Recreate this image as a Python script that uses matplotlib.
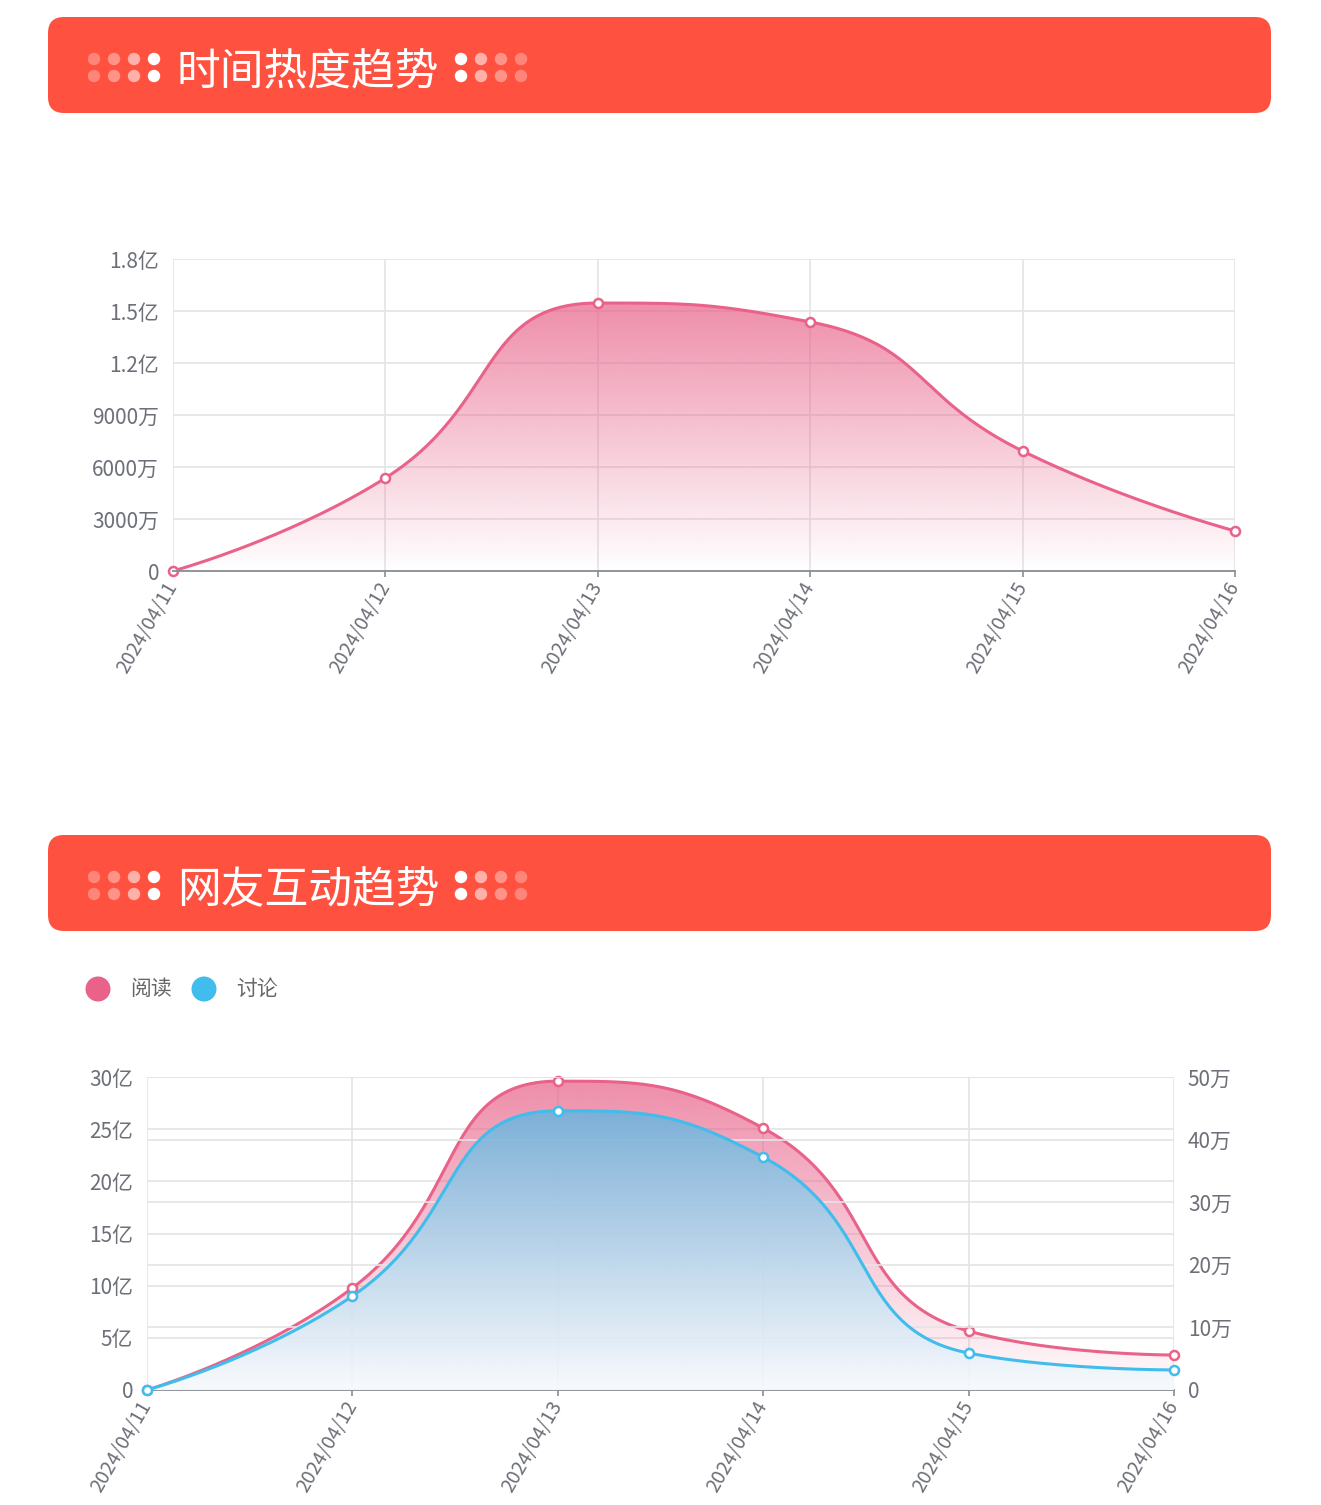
import numpy as np
import matplotlib
matplotlib.use('Agg')
import matplotlib.pyplot as plt
from matplotlib.patches import FancyBboxPatch, Circle, Polygon

plt.rcParams['font.family'] = ['Noto Sans CJK SC', 'DejaVu Sans']

# ---------------- data ----------------
dates = ['2024/04/11', '2024/04/12', '2024/04/13', '2024/04/14', '2024/04/15', '2024/04/16']
heat = [0, 5365, 15460, 14370, 6920, 2310]          # 万
heat_ticks = [0, 3000, 6000, 9000, 12000, 15000, 18000]
heat_tick_labels = ['0', '3000万', '6000万', '9000万', '1.2亿', '1.5亿', '1.8亿']

read = [0, 9.78, 29.6, 25.1, 5.65, 3.35]            # 亿
discuss = [0, 15.0, 44.6, 37.2, 5.9, 3.2]           # 万
read_ticks = [0, 5, 10, 15, 20, 25, 30]
read_tick_labels = ['0', '5亿', '10亿', '15亿', '20亿', '25亿', '30亿']
discuss_ticks = [0, 10, 20, 30, 40, 50]
discuss_tick_labels = ['0', '10万', '20万', '30万', '40万', '50万']

titles = ['时间热度趋势', '网友互动趋势']
legend_names = ['阅读', '讨论']

# ---------------- style ----------------
PINK = '#e86289'
BLUE = '#40bdec'
HEADER = '#ff5140'
GRID = '#e4e4e8'
LABEL = '#6e7079'

W, H = 1321, 1505
fig = plt.figure(figsize=(W / 100, H / 100), dpi=100)
fig.patch.set_facecolor('white')


def echarts_smooth(ax, xs, ys, smooth=0.5, nseg=60):
    pts = ax.transData.transform(np.column_stack([xs, ys]))
    px, py = pts[:, 0], pts[:, 1]
    n = len(px)
    outx, outy = [px[0]], [py[0]]
    cpx0, cpy0 = px[0], py[0]
    for k in range(1, n):
        x, y = px[k], py[k]
        prevX, prevY = px[k - 1], py[k - 1]
        if k == n - 1:
            cpx1, cpy1 = x, y
            ncx, ncy = x, y
        else:
            nextX, nextY = px[k + 1], py[k + 1]
            vx, vy = nextX - prevX, nextY - prevY
            lp = np.hypot(x - prevX, y - prevY)
            ln = np.hypot(nextX - x, nextY - y)
            r = ln / (ln + lp)
            ncx = x + vx * smooth * r
            ncy = y + vy * smooth * r
            ncx = min(ncx, max(nextX, x)); ncy = min(ncy, max(nextY, y))
            ncx = max(ncx, min(nextX, x)); ncy = max(ncy, min(nextY, y))
            vx, vy = ncx - x, ncy - y
            cpx1 = x - vx * lp / ln
            cpy1 = y - vy * lp / ln
            cpx1 = min(cpx1, max(prevX, x)); cpy1 = min(cpy1, max(prevY, y))
            cpx1 = max(cpx1, min(prevX, x)); cpy1 = max(cpy1, min(prevY, y))
            vx, vy = x - cpx1, y - cpy1
            ncx = x + vx * ln / lp
            ncy = y + vy * ln / lp
        t = np.linspace(0, 1, nseg)[1:]
        bx = (1 - t) ** 3 * prevX + 3 * (1 - t) ** 2 * t * cpx0 + 3 * (1 - t) * t ** 2 * cpx1 + t ** 3 * x
        by = (1 - t) ** 3 * prevY + 3 * (1 - t) ** 2 * t * cpy0 + 3 * (1 - t) * t ** 2 * cpy1 + t ** 3 * y
        outx.extend(bx); outy.extend(by)
        cpx0, cpy0 = ncx, ncy
    data = ax.transData.inverted().transform(np.column_stack([outx, outy]))
    return data[:, 0], data[:, 1]


def grad_fill(ax, cx, cy, top, bottom, zorder):
    verts = np.column_stack([np.r_[cx, cx[-1], cx[0]], np.r_[cy, 0, 0]])
    poly = Polygon(verts, closed=True, facecolor='none', edgecolor='none',
                   transform=ax.transData)
    ax.add_patch(poly)
    n = 256
    t = np.linspace(0, 1, n)[:, None]
    img = (1 - t) * np.array(bottom)[None, :] + t * np.array(top)[None, :]
    xl, yl = ax.get_xlim(), ax.get_ylim()
    im = ax.imshow(img[:, None, :], extent=[cx[0], cx[-1], 0, max(cy)], origin='lower',
                   aspect='auto', zorder=zorder, interpolation='bilinear')
    im.set_clip_path(poly)
    ax.set_xlim(xl); ax.set_ylim(yl)


def style_axes(ax, yticks, ylabels):
    ax.set_xlim(0, len(dates) - 1)
    ax.set_xticks(range(len(dates)))
    ax.set_xticklabels(dates, rotation=60, ha='right', va='center', rotation_mode='anchor',
                       fontsize=14, color=LABEL)
    ax.set_yticks(yticks)
    ax.set_yticklabels(ylabels, fontsize=15, color=LABEL)
    ax.set_ylim(yticks[0], yticks[-1])
    for s in ['top', 'right', 'left']:
        ax.spines[s].set_visible(False)
    ax.spines['bottom'].set_color('#8a8c94')
    ax.spines['bottom'].set_linewidth(1.3)
    ax.spines['bottom'].set_zorder(6)
    ax.tick_params(axis='x', length=4, width=1.2, color='#8a8c94', pad=5)
    ax.tick_params(axis='y', length=0, pad=10)
    ax.grid(True, color=GRID, linewidth=1.2, zorder=0)
    ax.set_axisbelow(True)


def to_rgba(hexc, a):
    hexc = hexc.lstrip('#')
    return [int(hexc[i:i + 2], 16) / 255 for i in (0, 2, 4)] + [a]


# ---------------- background / headers ----------------
bg = fig.add_axes([0, 0, 1, 1], zorder=-1)
bg.set_xlim(0, W); bg.set_ylim(H, 0); bg.axis('off')

header_y = [17, 835]
dot_alpha_left = [0.3, 0.38, 0.55, 1.0]
dot_x_left = [94, 114, 134, 154]
dot_x_right = [461, 481, 501, 521]
for hy, title in zip(header_y, titles):
    bg.add_patch(FancyBboxPatch((48, hy), 1223, 96, boxstyle='round,pad=0,rounding_size=16',
                                fc=HEADER, ec='none'))
    bg.text(177, hy + 55, title, fontsize=31.5, color='white', ha='left', va='center')
    for i in range(4):
        for dy in (42, 59):
            bg.add_patch(Circle((dot_x_left[i], hy + dy), 6.2, fc='white', ec='none',
                                alpha=dot_alpha_left[i]))
            bg.add_patch(Circle((dot_x_right[i], hy + dy), 6.2, fc='white', ec='none',
                                alpha=dot_alpha_left[3 - i]))

# legend
bg.add_patch(Circle((98, 989), 12.5, fc=PINK, ec='none'))
bg.text(130, 989, legend_names[0], fontsize=15, color='#666666', ha='left', va='center')
bg.add_patch(Circle((204, 989), 12.5, fc=BLUE, ec='none'))
bg.text(236, 989, legend_names[1], fontsize=15, color='#666666', ha='left', va='center')

x = np.arange(len(dates))
mk = dict(marker='o', markersize=6.5, markerfacecolor='white', markeredgewidth=1.8)

# ---------------- chart 1 ----------------
ax1 = fig.add_axes([173 / W, 1 - 571 / H, (1235 - 173) / W, (571 - 259) / H])
style_axes(ax1, heat_ticks, heat_tick_labels)
cx, cy = echarts_smooth(ax1, x, heat)
grad_fill(ax1, cx, cy, to_rgba(PINK, 0.72), to_rgba(PINK, 0.0), 2)
ax1.plot(cx, cy, color=PINK, lw=2.2, zorder=4, solid_capstyle='round')
ax1.plot(x, heat, ls='none', color=PINK, zorder=5, clip_on=False, **mk)

# ---------------- chart 2 ----------------
ax2 = fig.add_axes([147 / W, 1 - 1390 / H, (1174 - 147) / W, (1390 - 1077) / H])
style_axes(ax2, read_ticks, read_tick_labels)
ax3 = ax2.twinx()
ax3.set_ylim(discuss_ticks[0], discuss_ticks[-1])
ax3.set_yticks(discuss_ticks)
ax3.set_yticklabels(discuss_tick_labels, fontsize=15, color=LABEL)
for s in ['top', 'right', 'left', 'bottom']:
    ax3.spines[s].set_visible(False)
ax3.tick_params(axis='y', length=0, pad=10)
ax3.grid(True, axis='y', color=GRID, linewidth=1.2, zorder=0)
ax3.set_axisbelow(True)

rx, ry = echarts_smooth(ax2, x, read)
grad_fill(ax2, rx, ry, to_rgba(PINK, 0.72), to_rgba(PINK, 0.02), 2)
ax2.plot(rx, ry, color=PINK, lw=2.2, zorder=4)
ax2.plot(x, read, ls='none', color=PINK, zorder=5, clip_on=False, **mk)

dx_, dy_ = echarts_smooth(ax3, x, discuss)
grad_fill(ax3, dx_, dy_, [0.45, 0.70, 0.86, 0.92], [0.97, 0.98, 0.995, 0.9], 2)
ax3.plot(dx_, dy_, color=BLUE, lw=2.2, zorder=4)
ax3.plot(x, discuss, ls='none', color=BLUE, zorder=5, clip_on=False, **mk)

fig.savefig('out.png', dpi=100, facecolor='white')
